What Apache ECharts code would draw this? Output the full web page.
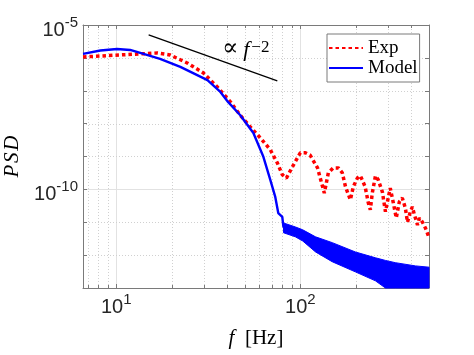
<!DOCTYPE html>
<html><head><meta charset="utf-8">
<script src="https://cdn.jsdelivr.net/npm/echarts@6/dist/echarts.min.js"></script>
<style>html,body{margin:0;padding:0;background:#fff}#c{width:474px;height:355px}</style>
</head><body><div id="c"></div>
<script>
// ---- data ----
const expF = [6.6, 8.2, 10.5, 13.5, 16.7, 19.6, 24.3, 29.7, 35.4, 41.7, 47.2, 53.5, 60.6, 68.7, 75, 79.8, 84, 90.5, 100, 106.5, 113, 124, 135, 142, 151, 161, 169, 176, 187, 194, 204, 212, 225, 234, 240, 246, 256, 265, 279, 290, 301, 308, 320, 332, 345, 358, 372, 382, 396, 406, 417, 433, 444, 461, 478, 490, 500];
const expPSD = [1.07e-6, 1.14e-6, 1.23e-6, 1.32e-6, 1.41e-6, 1.23e-6, 7e-7, 3.5e-7, 1.3e-7, 4.6e-8, 1.8e-8, 7.9e-9, 3.7e-9, 1.6e-9, 6.4e-10, 2.8e-10, 2.2e-10, 4.8e-10, 1.3e-9, 1.3e-9, 1.1e-9, 4.5e-10, 7.7e-11, 3.2e-10, 4.5e-10, 4.5e-10, 3.2e-10, 1.2e-10, 4.8e-11, 1.2e-10, 2.2e-10, 2.6e-10, 1.2e-10, 3.9e-11, 2.4e-11, 7.8e-11, 2.6e-10, 1.95e-10, 8.4e-11, 2.1e-11, 5.9e-11, 1.1e-10, 3.9e-11, 1.35e-11, 4.2e-11, 5.5e-11, 2.7e-11, 1.0e-11, 2.1e-11, 2.95e-11, 1.66e-11, 8.3e-12, 1.35e-11, 1.0e-11, 6.7e-12, 5.9e-12, 3.4e-12];
const modelF = [6.6, 8.2, 10.1, 11.9, 13.5, 17.3, 22.3, 31.3, 36.8, 40.6, 47.2, 55.6, 63, 68.7, 73.1, 75.9, 79.8, 81];
const modelPSD = [1.32e-6, 1.68e-6, 1.86e-6, 1.74e-6, 1.41e-6, 9.3e-7, 5.3e-7, 2.1e-7, 9.2e-8, 4.5e-8, 1.8e-8, 5.2e-9, 9.8e-10, 1.95e-10, 5.9e-11, 1.9e-11, 1.45e-11, 7e-12];
// oscillating high-frequency part of the model: upper / lower envelope
const bandF = [81, 94, 103, 121, 149, 199, 256, 290, 328, 422, 500];
const bandHi = [9.5e-12, 7.2e-12, 5.9e-12, 3.6e-12, 2.4e-12, 1.25e-12, 8.3e-13, 6.9e-13, 5.9e-13, 4.7e-13, 4.3e-13];
const bandLo = [4.8e-12, 3.6e-12, 2.7e-12, 1.25e-12, 6.3e-13, 3.1e-13, 1.65e-13, 1e-13, 1e-13, 1e-13, 1e-13];
const slopeF = [15, 75];
const slopePSD = [5e-6, 2e-7];
const xRange = [6.6, 500];
const yRange = [1e-13, 1e-5];
const xLabelValues = [10, 100];
const yLabelValues = [1e-5, 1e-10];
const xMajorGrid = [10, 100];
const xMinorGrid = [7, 8, 9, 20, 30, 40, 50, 60, 70, 80, 90, 200, 300, 400];
const yMajorGrid = [1e-10];
const yMinorGrid = [1e-6, 1e-7, 1e-8, 1e-9, 1e-11, 1e-12];

const AX = '#7a7a7a';
const SANS = 'Liberation Sans, Arial, Helvetica, sans-serif';
const SERIF = 'Liberation Serif, DejaVu Serif, serif';

function isIn(v, arr) {
  return arr.some(a => Math.abs(Math.log10(v) - Math.log10(a)) < 1e-6);
}
function powLabel(v) {
  return '{b|10}{s|' + Math.round(Math.log10(v)) + '}';
}
const tickRich = {
  b: {fontFamily: SANS, fontSize: 20, lineHeight: 20, padding: [11, 0, 0, 0], verticalAlign: 'middle', color: '#262626'},
  s: {fontFamily: SANS, fontSize: 15, lineHeight: 15, padding: [3, 0, 8, 0], verticalAlign: 'middle', color: '#262626'}
};

function crisp(x) { return Math.round(x) + 0.5; }
function vGrid(values, major) {
  return function (params, api) {
    const v = values[params.dataIndex];
    const p0 = api.coord([v, yRange[0]]), p1 = api.coord([v, yRange[1]]);
    const x = crisp(p0[0]);
    const ch = [{type: 'line', shape: {x1: x, y1: p0[1], x2: x, y2: p1[1]},
      style: {stroke: major ? '#e2e2e2' : '#d0d0d0', lineWidth: 1, lineDash: major ? null : [1, 2]}}];
    if (!major) {
      ch.push({type: 'line', shape: {x1: x, y1: p0[1], x2: x, y2: p0[1] - 3}, style: {stroke: AX, lineWidth: 1}});
      ch.push({type: 'line', shape: {x1: x, y1: p1[1], x2: x, y2: p1[1] + 3}, style: {stroke: AX, lineWidth: 1}});
    }
    return {type: 'group', children: ch};
  };
}
function hGrid(values, major) {
  return function (params, api) {
    const v = values[params.dataIndex];
    const p0 = api.coord([xRange[0], v]), p1 = api.coord([xRange[1], v]);
    const y = crisp(p0[1]);
    return {type: 'line', shape: {x1: p0[0], y1: y, x2: p1[0], y2: y},
      style: {stroke: major ? '#e2e2e2' : '#d0d0d0', lineWidth: 1, lineDash: major ? null : [1, 2]}};
  };
}

const chart = echarts.init(document.getElementById('c'), null, {renderer: 'canvas'});
const baseX = {
  type: 'log', logBase: 10, min: xRange[0], max: xRange[1],
  axisLine: {show: true, lineStyle: {color: AX, width: 1}},
  axisTick: {show: true, inside: true, length: 4, lineStyle: {color: AX}},
  splitLine: {show: false}, minorTick: {show: false}
};
const baseY = {
  type: 'log', logBase: 10, min: yRange[0], max: yRange[1], splitNumber: 8,
  axisLine: {show: true, lineStyle: {color: AX, width: 1}},
  axisTick: {show: true, inside: true, length: 4, lineStyle: {color: AX}},
  splitLine: {show: false}, minorTick: {show: false}
};

chart.setOption({
  animation: false,
  backgroundColor: '#fff',
  grid: {left: 83, top: 25, right: 45, bottom: 67, containLabel: false, outerBoundsMode: 'none'},
  xAxis: [
    Object.assign({}, baseX, {
      position: 'bottom',
      name: '{i|f}{r|  [Hz]}', nameLocation: 'middle', nameGap: 40,
      nameTextStyle: {rich: {
        i: {fontFamily: SERIF, fontStyle: 'italic', fontSize: 21, color: '#000'},
        r: {fontFamily: SERIF, fontSize: 21, color: '#000'}}},
      axisLabel: {show: true, margin: 4, rich: tickRich,
        formatter: v => isIn(v, xLabelValues) ? powLabel(v) : ''}
    }),
    Object.assign({}, baseX, {position: 'top', axisLabel: {show: false}})
  ],
  yAxis: [
    Object.assign({}, baseY, {
      position: 'left',
      name: 'P\u200AS\u200AD', nameLocation: 'middle', nameGap: 60,
      nameTextStyle: {fontFamily: SERIF, fontStyle: 'italic', fontSize: 21, color: '#000'},
      axisLabel: {show: true, margin: 5, rich: tickRich,
        formatter: v => isIn(v, yLabelValues) ? powLabel(v) : ''}
    }),
    Object.assign({}, baseY, {position: 'right', axisLabel: {show: false}})
  ],
  legend: {
    data: ['Exp', 'Model'], orient: 'vertical', left: 327, top: 34,
    backgroundColor: '#fff', borderColor: AX, borderWidth: 1, borderRadius: 0,
    padding: [4, 2, 4, 1], itemGap: 0, itemWidth: 34, itemHeight: 20,
    itemStyle: {opacity: 0},
    textStyle: {fontFamily: SERIF, fontSize: 19, lineHeight: 20, color: '#000'}
  },
  graphic: [{
    type: 'text', x: 222, y: 39, z: 10,
    style: {
      text: '{a|\u221D}{p| }{f|f}{s|\u22122}',
      rich: {
        a: {fontFamily: 'DejaVu Serif, serif', fontSize: 24, lineHeight: 22, verticalAlign: 'bottom', fill: '#000'},
        p: {fontFamily: SERIF, fontSize: 20, lineHeight: 22, verticalAlign: 'bottom', fill: '#000'},
        f: {fontFamily: SERIF, fontStyle: 'italic', fontSize: 22, lineHeight: 22, verticalAlign: 'bottom', fill: '#000'},
        s: {fontFamily: SERIF, fontSize: 17, lineHeight: 16, padding: [0, 0, 0, 2], verticalAlign: 'top', fill: '#000'}
      }
    }
  }],
  series: [
    {type: 'custom', name: 'gx1', silent: true, z: 0, renderItem: vGrid(xMinorGrid, false), data: xMinorGrid.map(v => [v, yRange[0]])},
    {type: 'custom', name: 'gx2', silent: true, z: 0, renderItem: vGrid(xMajorGrid, true), data: xMajorGrid.map(v => [v, yRange[0]])},
    {type: 'custom', name: 'gy1', silent: true, z: 0, renderItem: hGrid(yMinorGrid, false), data: yMinorGrid.map(v => [xRange[0], v])},
    {type: 'custom', name: 'gy2', silent: true, z: 0, renderItem: hGrid(yMajorGrid, true), data: yMajorGrid.map(v => [xRange[0], v])},
    {
      type: 'line', name: 'Exp', z: 3, symbol: 'none', showSymbol: false,
      data: expF.map((f, i) => [f, expPSD[i]]),
      lineStyle: {color: '#f00', width: 3.5, type: [3.5, 3], cap: 'butt'},
      itemStyle: {color: '#f00'}
    },
    {
      type: 'line', name: 'Model', z: 4, symbol: 'none', showSymbol: false,
      data: modelF.map((f, i) => [f, modelPSD[i]]),
      lineStyle: {color: '#0000ff', width: 2.4},
      itemStyle: {color: '#0000ff'}
    },
    {
      type: 'custom', name: 'ModelBand', z: 4, silent: true,
      data: bandF.map((f, i) => [f, bandLo[i], bandHi[i]]),
      encode: {x: 0, y: [1, 2]},
      renderItem: function (params, api) {
        if (params.dataIndex !== 0) return null;
        const pts = [];
        for (let i = 0; i < bandF.length; i++) pts.push(api.coord([bandF[i], bandHi[i]]));
        for (let i = bandF.length - 1; i >= 0; i--) pts.push(api.coord([bandF[i], bandLo[i]]));
        return {type: 'polygon', shape: {points: pts}, style: {fill: '#0000ff', stroke: '#0000ff', lineWidth: 1}};
      }
    },
    {
      type: 'line', name: 'slope', z: 5, symbol: 'none', silent: true,
      data: slopeF.map((f, i) => [f, slopePSD[i]]),
      lineStyle: {color: '#000', width: 1.3}
    }
  ]
});
</script></body></html>
